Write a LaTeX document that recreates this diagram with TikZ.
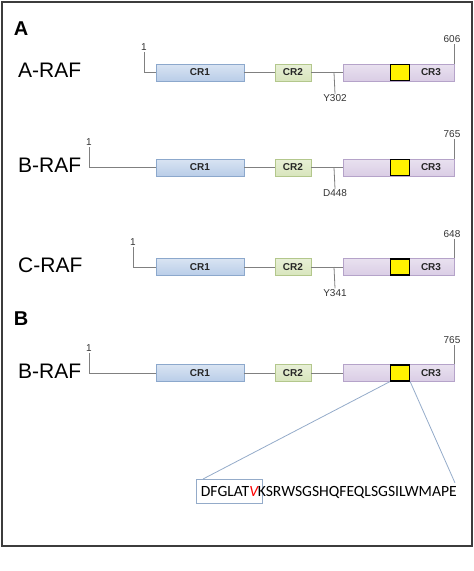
\documentclass[tikz,border=0pt]{standalone}
\usepackage{fontspec}
\setmainfont{Liberation Sans}
\newfontfamily\seqfont{Carlito}
\usetikzlibrary{positioning}
\definecolor{crone}{HTML}{B9CDE8}
\definecolor{croneb}{HTML}{8CA8CC}
\definecolor{crtwo}{HTML}{D8E5BC}
\definecolor{crtwob}{HTML}{B3C78C}
\definecolor{crthree}{HTML}{DACDE5}
\definecolor{crthreeb}{HTML}{B5A3C9}
\definecolor{linkgray}{HTML}{808080}
\definecolor{zoomblue}{HTML}{94ABC9}
\definecolor{framegray}{HTML}{3C3C3C}

\begin{document}
\begin{tikzpicture}[x=1pt,y=-1pt,
  dom/.style={minimum height=17pt, inner sep=0pt, font=\bfseries\fontsize{10}{11}\selectfont, text=black!85},
  cr1/.style={dom, draw=croneb, top color=crone!55, bottom color=crone, minimum width=88pt},
  cr2/.style={dom, draw=crtwob, top color=crtwo!60, bottom color=crtwo, minimum width=36pt},
  cr3/.style={dom, draw=crthreeb, top color=crthree!60, bottom color=crthree, minimum width=111pt},
  kin/.style={draw=black, line width=1.3pt, fill=yellow, minimum width=19pt, minimum height=16pt, inner sep=0pt},
  link/.style={draw=linkgray, line width=0.8pt},
  num/.style={font=\fontsize{10}{11}\selectfont, text=black!80, inner sep=1pt},
  rafname/.style={font=\fontsize{21}{24}\selectfont, anchor=west, inner sep=0pt},
  panel/.style={font=\bfseries\fontsize{20}{22}\selectfont, inner sep=0pt}]
\useasboundingbox (0,0) rectangle (474,571);
\draw[framegray, line width=2pt] (2,2) rectangle (472,546);

\node[panel] (pa) at (21,29) {A};
\node[panel] (pb) at (21,319) {B};

% panel A: the three RAF proteins
\foreach \n/\lbl/\y/\s/\e/\site in {a/A-RAF/72.5/144/606/Y302, b/B-RAF/167.5/89/765/D448, c/C-RAF/267/133/648/Y341}{
  \node[rafname] (\n-name) at (18,\y-2) {\lbl};
  \node[cr1] (\n-cr1) at (200,\y) {CR1};
  \node[cr2] (\n-cr2) at (293,\y) {CR2};
  \node[cr3] (\n-cr3) at (398.5,\y) {};
  \node[kin] (\n-kin) at (400,\y) {};
  \node[dom] (\n-cr3txt) at (431,\y) {CR3};
  \node[num] (\n-start) at (\s,\y-25) {1};
  \node[num] (\n-end) at (452,\y-33) {\e};
  \coordinate (\n-site) at (334,\y);
  \node[num] (\n-sitelbl) at (335,\y+26) {\site};
  \draw[link] (\n-start.south) |- (\n-cr1.west);
  \draw[link] (\n-cr1) -- (\n-cr2);
  \draw[link] (\n-cr2) -- (\n-cr3);
  \draw[link] (\n-site) -- (\n-sitelbl.north);
  \draw[link] (\n-cr3.north east) -- (\n-cr3.north east |- \n-end.south);
}

% panel B: B-RAF and the activation segment
\node[rafname] (d-name) at (18,371) {B-RAF};
\node[cr1] (d-cr1) at (200,373) {CR1};
\node[cr2] (d-cr2) at (293,373) {CR2};
\node[cr3] (d-cr3) at (398.5,373) {};
\node[kin] (d-kin) at (400,373) {};
\node[dom] (d-cr3txt) at (431,373) {CR3};
\node[num] (d-start) at (89,348) {1};
\node[num] (d-end) at (452,340) {765};
\draw[link] (d-start.south) |- (d-cr1.west);
\draw[link] (d-cr1) -- (d-cr2);
\draw[link] (d-cr2) -- (d-cr3);
\draw[link] (d-cr3.north east) -- (d-cr3.north east |- d-end.south);

\node[draw=zoomblue, line width=0.8pt, font=\seqfont\fontsize{15.6}{17}\selectfont,
  minimum height=24pt, inner xsep=4.5pt, inner ysep=0pt, anchor=north west] (seqbox) at (196,479)
  {DFGLAT\textcolor{red}{\itshape V}};
\node[font=\seqfont\fontsize{15.6}{17}\selectfont, inner xsep=0pt, anchor=base west]
  (seqrest) at ([xshift=-5.5pt]seqbox.base east) {KSRWSGSHQFEQLSGSILWMAPE};
\draw[zoomblue, line width=0.8pt] (d-kin.south west) -- ([xshift=7pt]seqbox.north west);
\draw[zoomblue, line width=0.8pt] (d-kin.south east) -- ([xshift=-2pt]seqrest.north east);
\end{tikzpicture}
\end{document}
